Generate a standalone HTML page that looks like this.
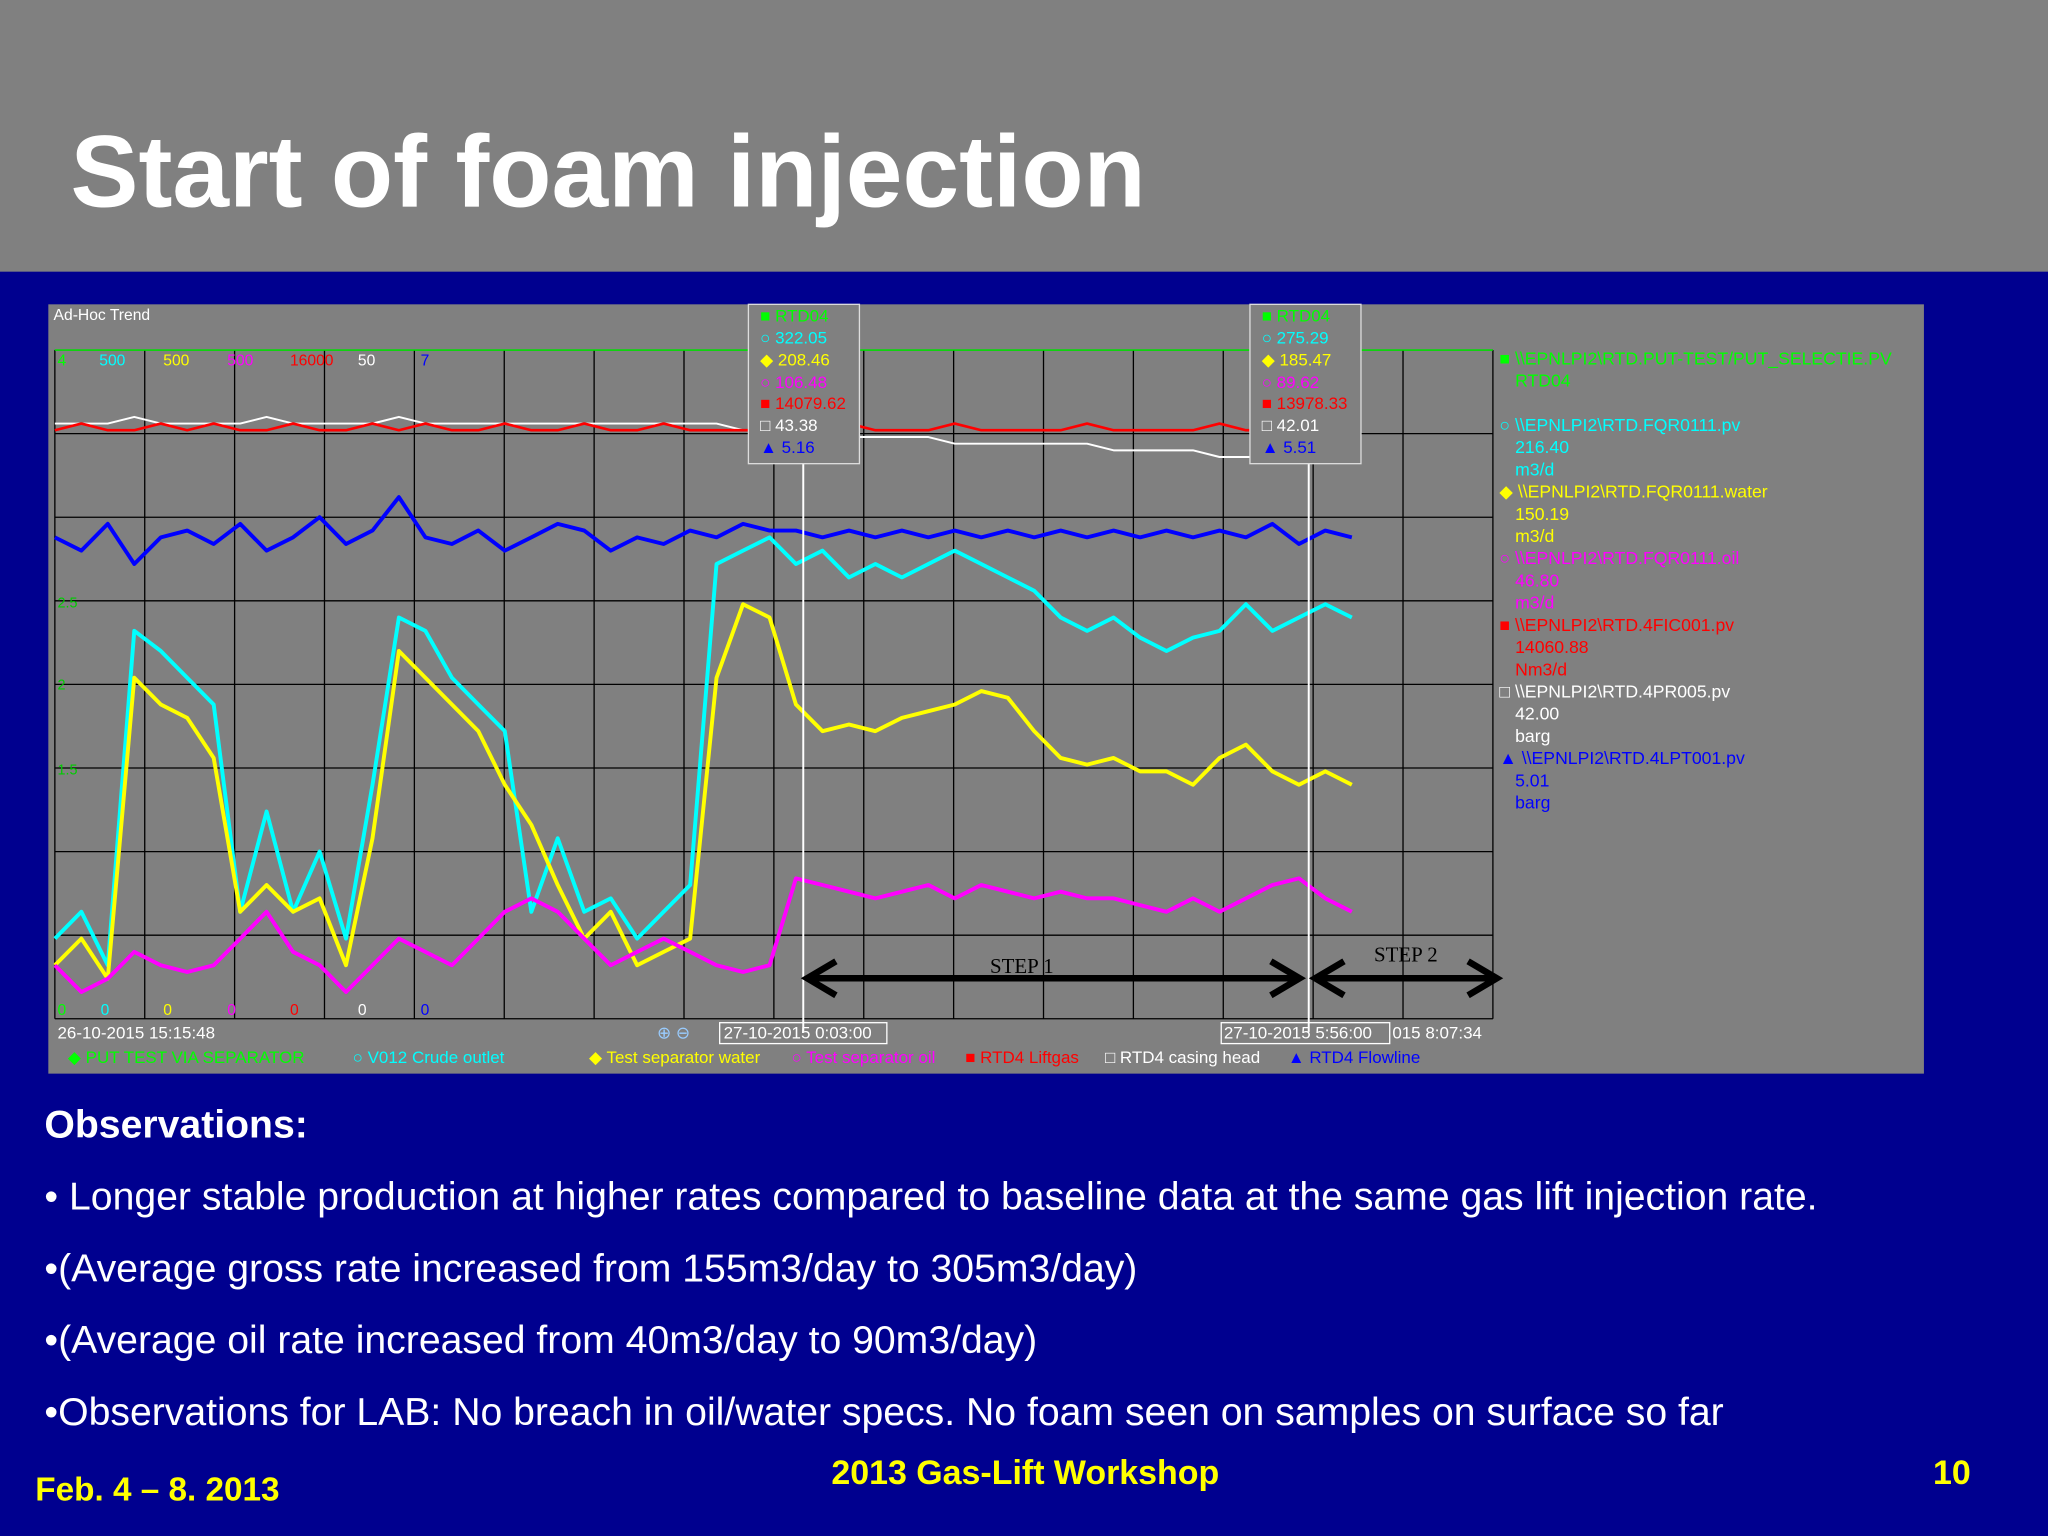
<!DOCTYPE html>
<html><head><meta charset="utf-8"><style>
html,body{margin:0;padding:0;background:#00008f;}
svg{display:block;font-family:"Liberation Sans",sans-serif;}
</style></head><body>
<svg width="2048" height="1536" viewBox="0 0 1568 1176" xmlns="http://www.w3.org/2000/svg">
<rect x="0" y="0" width="1568" height="1176" fill="#00008f"/>
<rect x="0" y="0" width="1568" height="208" fill="#808080"/>
<text x="54" y="158" font-size="78" font-weight="bold" fill="#fff">Start of foam injection</text>

<g>
<rect x="37" y="233" width="1436" height="589" fill="#808080"/>
<text x="41" y="245" font-size="12" fill="#fff">Ad-Hoc Trend</text>
<g id="grid"></g>
<line x1="42" y1="268" x2="1143" y2="268" stroke="#00ff00" stroke-width="1"/>
<g id="series"></g>
<g font-size="12">
<text x="44" y="280" fill="#00ff00">4</text><text x="76" y="280" fill="#00ffff">500</text><text x="125" y="280" fill="#ffff00">500</text><text x="174" y="280" fill="#ff00ff">500</text><text x="222" y="280" fill="#ff0000">16000</text><text x="274" y="280" fill="#fff">50</text><text x="322" y="280" fill="#0000ff">7</text>
</g>
<g font-size="11" fill="#00cc00">
<text x="44" y="465">2.5</text><text x="44" y="528">2</text><text x="44" y="593">1.5</text>
</g>
<g font-size="12">
<text x="44" y="777" fill="#00ff00">0</text><text x="77" y="777" fill="#00ffff">0</text><text x="125" y="777" fill="#ffff00">0</text><text x="174" y="777" fill="#ff00ff">0</text><text x="222" y="777" fill="#ff0000">0</text><text x="274" y="777" fill="#fff">0</text><text x="322" y="777" fill="#0000ff">0</text>
</g>
<g id="cursors">
<line x1="615" y1="268" x2="615" y2="790" stroke="#fff" stroke-width="1.5"/>
<line x1="1002" y1="268" x2="1002" y2="790" stroke="#fff" stroke-width="1.5"/>
</g>
<g font-size="13">
<rect x="573" y="233" width="85" height="122" fill="#808080" stroke="#ddd"/>
<text x="582" y="246" fill="#00ff00">■ RTD04</text><text x="582" y="263" fill="#00ffff">○ 322.05</text><text x="582" y="280" fill="#ffff00">◆ 208.46</text><text x="582" y="297" fill="#ff00ff">○ 106.48</text><text x="582" y="313" fill="#ff0000">■ 14079.62</text><text x="582" y="330" fill="#fff">□ 43.38</text><text x="582" y="347" fill="#0000ff">▲ 5.16</text>
</g>
<g font-size="13">
<rect x="957" y="233" width="85" height="122" fill="#808080" stroke="#ddd"/>
<text x="966" y="246" fill="#00ff00">■ RTD04</text><text x="966" y="263" fill="#00ffff">○ 275.29</text><text x="966" y="280" fill="#ffff00">◆ 185.47</text><text x="966" y="297" fill="#ff00ff">○ 89.62</text><text x="966" y="313" fill="#ff0000">■ 13978.33</text><text x="966" y="330" fill="#fff">□ 42.01</text><text x="966" y="347" fill="#0000ff">▲ 5.51</text>
</g>
<g stroke="#000" stroke-width="5" fill="none">
<line x1="618" y1="749" x2="995" y2="749"/><polyline points="640,736 618,749 640,762"/><polyline points="973,736 995,749 973,762"/>
<line x1="1007" y1="749" x2="1146" y2="749"/><polyline points="1029,736 1007,749 1029,762"/><polyline points="1124,736 1146,749 1124,762"/>
</g>
<text x="758" y="745" font-size="16" font-family="Liberation Serif,serif" fill="#000">STEP 1</text>
<text x="1052" y="736" font-size="16" font-family="Liberation Serif,serif" fill="#000">STEP 2</text>
<g font-size="13" fill="#fff">
<text x="44" y="795">26-10-2015 15:15:48</text>
<rect x="551" y="783" width="128" height="16" fill="none" stroke="#fff"/><text x="554" y="795">27-10-2015 0:03:00</text>
<rect x="935" y="783" width="129" height="16" fill="none" stroke="#fff"/><text x="937" y="795">27-10-2015 5:56:00</text>
<text x="1066" y="795">015 8:07:34</text>
<text x="503" y="795" fill="#9cf">⊕ ⊖</text>
</g>
<g font-size="13">
<text x="52" y="814" fill="#00ff00">◆ PUT TEST VIA SEPARATOR</text>
<text x="270" y="814" fill="#00ffff">○ V012 Crude outlet</text>
<text x="451" y="814" fill="#ffff00">◆ Test separator water</text>
<text x="606" y="814" fill="#ff00ff">○ Test separator oil</text>
<text x="739" y="814" fill="#ff0000">■ RTD4 Liftgas</text>
<text x="846" y="814" fill="#fff">□ RTD4 casing head</text>
<text x="986" y="814" fill="#0000ff">▲ RTD4 Flowline</text>
</g>
<g font-size="13.5">
<text x="1148" y="279" fill="#00ff00">■ \\EPNLPI2\RTD.PUT-TEST/PUT_SELECTIE.PV</text><text x="1160" y="296" fill="#00ff00">RTD04</text>
<text x="1148" y="330" fill="#00ffff">○ \\EPNLPI2\RTD.FQR0111.pv</text><text x="1160" y="347" fill="#00ffff">216.40</text><text x="1160" y="364" fill="#00ffff">m3/d</text>
<text x="1148" y="381" fill="#ffff00">◆ \\EPNLPI2\RTD.FQR0111.water</text><text x="1160" y="398" fill="#ffff00">150.19</text><text x="1160" y="415" fill="#ffff00">m3/d</text>
<text x="1148" y="432" fill="#ff00ff">○ \\EPNLPI2\RTD.FQR0111.oil</text><text x="1160" y="449" fill="#ff00ff">46.80</text><text x="1160" y="466" fill="#ff00ff">m3/d</text>
<text x="1148" y="483" fill="#ff0000">■ \\EPNLPI2\RTD.4FIC001.pv</text><text x="1160" y="500" fill="#ff0000">14060.88</text><text x="1160" y="517" fill="#ff0000">Nm3/d</text>
<text x="1148" y="534" fill="#fff">□ \\EPNLPI2\RTD.4PR005.pv</text><text x="1160" y="551" fill="#fff">42.00</text><text x="1160" y="568" fill="#fff">barg</text>
<text x="1148" y="585" fill="#0000ff">▲ \\EPNLPI2\RTD.4LPT001.pv</text><text x="1160" y="602" fill="#0000ff">5.01</text><text x="1160" y="619" fill="#0000ff">barg</text>
</g>
</g>

<g fill="#fff">
<text x="34" y="871" font-size="30" font-weight="bold">Observations:</text>
<text x="34" y="926" font-size="30">• Longer stable production at higher rates compared to baseline data at the same gas lift injection rate.</text>
<text x="34" y="981" font-size="30">•(Average gross rate increased from 155m3/day to 305m3/day)</text>
<text x="34" y="1036" font-size="30">•(Average oil rate increased from 40m3/day to 90m3/day)</text>
<text x="34" y="1091" font-size="30">•Observations for LAB: No breach in oil/water specs. No foam seen on samples on surface so far</text>
</g>
<g fill="#ffff00" font-weight="bold" font-size="26">
<text x="27" y="1149" font-size="25.5">Feb. 4 – 8. 2013</text>
<text x="785" y="1136" text-anchor="middle">2013 Gas-Lift Workshop</text>
<text x="1480" y="1136">10</text>
</g>
</svg>
<script>
const cyanVals=[12,16,8,58,55,51,47,16,31,16,25,12,35,60,58,51,47,43,16,27,16,18,12,16,20,68,70,72,68,70,66,68,66,68,70,68,66,64,60,58,60,57,55,57,58,62,58,60,62,60];
const yellowVals=[8,12,6,51,47,45,39,16,20,16,18,8,27,55,51,47,43,35,29,20,12,16,8,10,12,51,62,60,47,43,44,43,45,46,47,49,48,43,39,38,39,37,37,35,39,41,37,35,37,35];
const magentaVals=[8,4,6,10,8,7,8,12,16,10,8,4,8,12,10,8,12,16,18,16,12,8,10,12,10,8,7,8,21,20,19,18,19,20,18,20,19,18,19,18,18,17,16,18,16,18,20,21,18,16];
const blueVals=[72,70,74,68,72,73,71,74,70,72,75,71,73,78,72,71,73,70,72,74,73,70,72,71,73,72,74,73,73,72,73,72,73,72,73,72,73,72,73,72,73,72,73,72,73,72,74,71,73,72];
const redVals=[88,89,88,88,89,88,89,88,88,89,88,88,89,88,89,88,88,89,88,88,89,88,88,89,88,88,88,88,88,88,89,88,88,88,89,88,88,88,88,89,88,88,88,88,89,88,88,88,88,88];
const whiteVals=[89,89,89,90,89,89,89,89,90,89,89,89,89,90,89,89,89,89,89,89,89,89,89,89,89,89,88,88,87,87,87,87,87,87,86,86,86,86,86,86,85,85,85,85,84,84,84,84,84,84];
const gridRows=[0,1,2,3,4,5,6,7,8];
const gridCols=[0,1,2,3,4,5,6,7,8,9,10,11,12,13,14,15,16];
const NS='http://www.w3.org/2000/svg';
const X0=42,X1=1035,PX1=1143,Y0=780,Y1=268;
function xs(i,n){return X0+(X1-X0)*i/(n-1);}
function ys(v){return Y0-(Y0-Y1)*v/100;}
const grid=document.getElementById('grid');
gridRows.forEach(r=>{const l=document.createElementNS(NS,'line');const y=Y1+(Y0-Y1)*r/8;
l.setAttribute('x1',X0);l.setAttribute('x2',PX1);l.setAttribute('y1',y);l.setAttribute('y2',y);l.setAttribute('stroke','#000');


grid.appendChild(l);});
gridCols.forEach(c=>{const l=document.createElementNS(NS,'line');const x=X0+(PX1-X0)*c/16;
l.setAttribute('x1',x);l.setAttribute('x2',x);l.setAttribute('y1',Y1);l.setAttribute('y2',Y0);l.setAttribute('stroke','#000');


grid.appendChild(l);});
const g=document.getElementById('series');
function draw(vals,color,name,w){const p=document.createElementNS(NS,'polyline');
p.setAttribute('points',vals.map((v,i)=>xs(i,vals.length).toFixed(1)+','+ys(v).toFixed(1)).join(' '));
p.setAttribute('fill','none');p.setAttribute('stroke',color);p.setAttribute('stroke-width',w);p.setAttribute('stroke-linejoin','round');


g.appendChild(p);}
draw(whiteVals,'#fff','casing-head-series',1.5);
draw(redVals,'#ff0000','liftgas-series',2);
draw(blueVals,'#0000ff','flowline-series',3);
draw(cyanVals,'#00ffff','crude-outlet-series',3);
draw(yellowVals,'#ffff00','separator-water-series',3);
draw(magentaVals,'#ff00ff','separator-oil-series',3);
</script>
</body></html>
